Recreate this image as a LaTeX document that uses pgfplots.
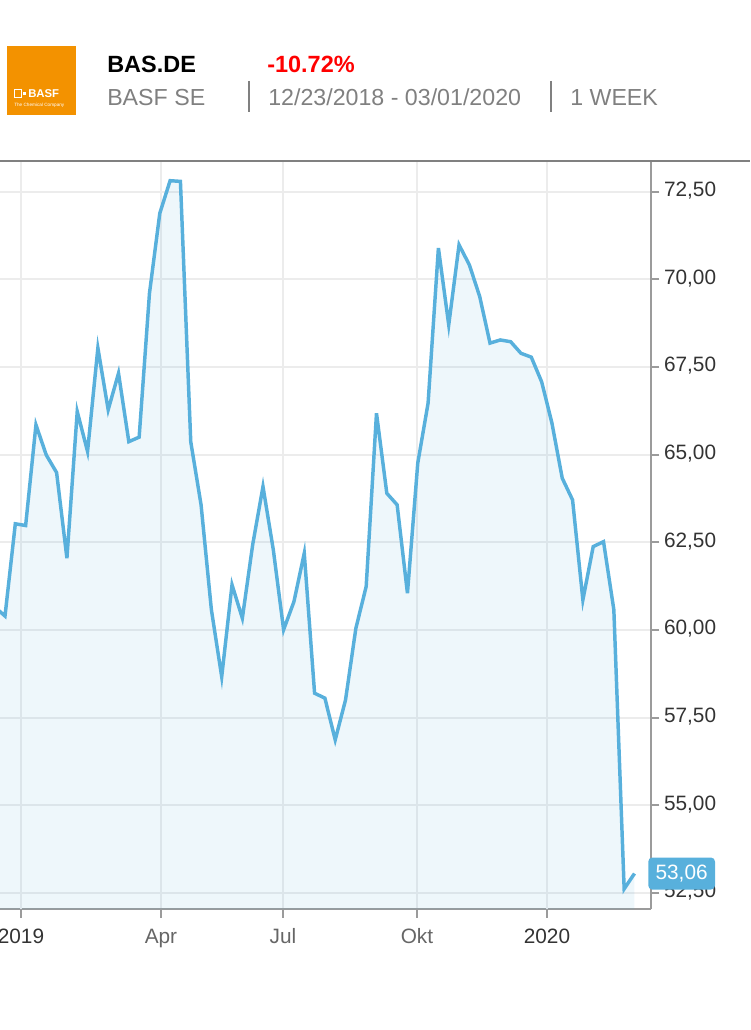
\documentclass[border=0pt]{standalone}
\usepackage{fontspec}
\setmainfont{Liberation Sans}
\usepackage{pgfplots}
\usepackage{pgfplotstable}
\pgfplotsset{compat=1.18}
\definecolor{lineblue}{RGB}{88,176,220}
\definecolor{basforange}{RGB}{243,146,0}
\definecolor{gridlight}{RGB}{236,236,236}
\definecolor{gridyear}{RGB}{200,200,204}
\definecolor{axisgray}{RGB}{155,155,155}
\definecolor{topgray}{RGB}{128,128,128}
\definecolor{headgray}{RGB}{128,128,128}
\definecolor{labeldark}{RGB}{51,51,51}
\definecolor{labelgray}{RGB}{102,102,102}

\pgfplotstableread{
i v
-1 60.66
0 60.40
1 63.03
2 62.98
3 65.85
4 64.99
5 64.49
6 62.05
7 66.23
8 65.09
9 68.04
10 66.28
11 67.32
12 65.37
13 65.50
14 69.60
15 71.88
16 72.81
17 72.79
18 65.37
19 63.57
20 60.58
21 58.67
22 61.29
23 60.34
24 62.43
25 64.09
26 62.29
27 60.01
28 60.81
29 62.19
30 58.20
31 58.06
32 56.87
33 58.01
34 60.05
35 61.24
36 66.18
37 63.90
38 63.57
39 61.05
40 64.76
41 66.47
42 70.89
43 68.70
44 70.98
45 70.41
46 69.51
47 68.18
48 68.27
49 68.22
50 67.89
51 67.78
52 67.08
53 65.90
54 64.33
55 63.71
56 60.86
57 62.38
58 62.52
59 60.58
60 52.62
61 53.06
}\bas

\begin{document}
\begin{tikzpicture}
\useasboundingbox (0,0) rectangle (562.5pt,-772.5pt);
\begin{scope}[x=0.75pt,y=-0.75pt]
\fill[basforange] (7,46) rectangle (76,115);
\draw[white, line width=0.7pt] (14.5,89.5) rectangle (21,97);
\fill[white] (23,91.8) rectangle (26.2,95);
\node[anchor=base west, inner sep=0, text=white, font=\bfseries\fontsize{8.5pt}{9pt}\selectfont] at (28,97.3) {BASF};
\node[anchor=base west, inner sep=0, text=white, font=\fontsize{3.5pt}{4pt}\selectfont] at (14,106.5) {The Chemical Company};
\node[anchor=base west, inner sep=0, font=\bfseries\fontsize{17.6pt}{20pt}\selectfont] at (107,73) {BAS.DE};
\node[anchor=base west, inner sep=0, text=red, font=\bfseries\fontsize{17.6pt}{20pt}\selectfont] at (267,73) {-10.72\%};
\node[anchor=base west, inner sep=0, text=headgray, font=\fontsize{17.4pt}{20pt}\selectfont] at (107,106) {BASF SE};
\draw[headgray, line width=1.5pt] (249,81) -- (249,112);
\node[anchor=base west, inner sep=0, text=headgray, font=\fontsize{17.4pt}{20pt}\selectfont] at (268,106) {12/23/2018 - 03/01/2020};
\draw[headgray, line width=1.5pt] (551,81) -- (551,112);
\node[anchor=base west, inner sep=0, text=headgray, font=\fontsize{17.4pt}{20pt}\selectfont] at (570,106) {1 WEEK};
\end{scope}

\begin{axis}[
  at={(0pt,-681.975pt)}, anchor=south west,
  width=488.0pt, height=561.45pt, scale only axis,
  xmin=-0.4845, xmax=62.57, ymin=52.04, ymax=73.38,
  clip mode=individual,
  axis x line*=bottom, axis y line*=right,
  axis line style={draw=axisgray, line width=1.5pt, -},
  xtick={15.116,26.94,39.92}, xticklabels={Apr,Jul,Okt},
  extra x ticks={1.55,52.52}, extra x tick labels={2019,2020},
  extra x tick style={grid style={draw=gridyear, line width=1.5pt}, xticklabel style={text=labeldark}},
  ytick={52.5,55,...,72.5},
  xmajorgrids, ymajorgrids,
  major grid style={draw=gridlight, line width=1.5pt},
  tick align=outside, major tick length=6.5pt,
  tick style={draw=axisgray, line width=1.5pt},
  typeset ticklabels with strut,
  xticklabel style={font=\fontsize{15.6pt}{18pt}\selectfont, text=labelgray, yshift=-3pt},
  yticklabel style={font=\fontsize{15.6pt}{18pt}\selectfont, text=labeldark},
  /pgf/number format/.cd, fixed, fixed zerofill, precision=2, use comma, assume math mode=true,
]
\addplot[draw=none, fill=lineblue, fill opacity=0.1] table[x=i, y=v] {\bas} \closedcycle;
\addplot[draw=lineblue, line width=2.6pt] table[x=i, y=v] {\bas};
\coordinate (lastpt) at (axis cs:62.57,53.06);
\end{axis}
\node[fill=lineblue, text=white, rounded corners=3pt, anchor=west, inner xsep=5.5pt, minimum height=24pt, font=\fontsize{15.6pt}{18pt}\selectfont, xshift=-2pt] at (lastpt) {53,06};
\draw[topgray, line width=1.5pt] (0pt,-120.5pt) -- (562.5pt,-120.5pt);
\end{tikzpicture}
\end{document}
